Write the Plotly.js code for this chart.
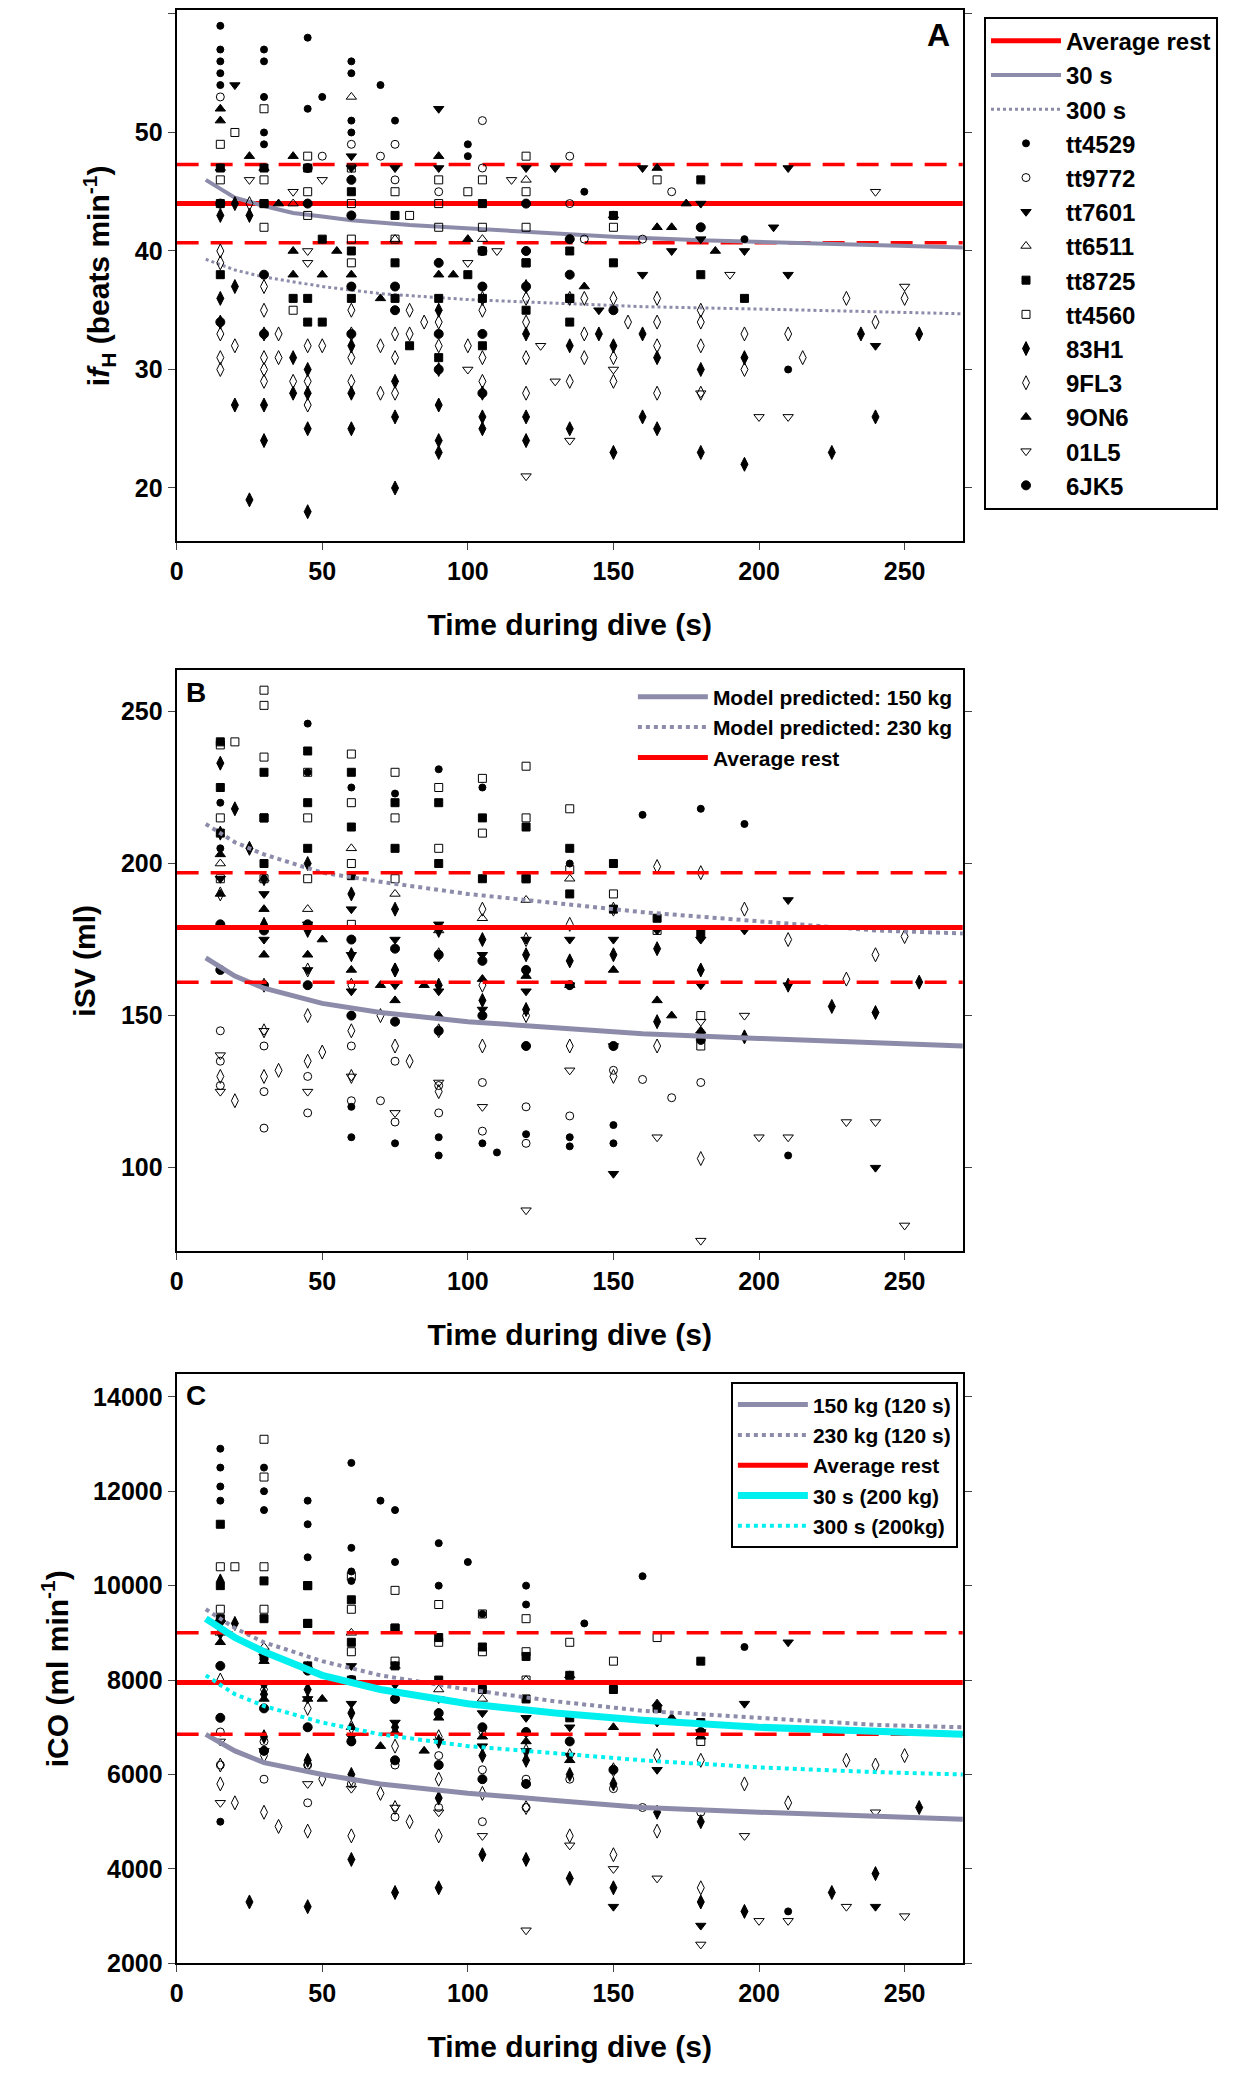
<!DOCTYPE html>
<html>
<head>
<script src="https://cdn.plot.ly/plotly-3.0.1.min.js"></script>
<style>body{margin:0;background:#fff}</style>
</head>
<body>
<div id="chart" style="width:1244px;height:2082px"></div>
<script>
// subjects and their symbols
const subjects = ["tt4529","tt9772","tt7601","tt6511","tt8725","tt4560","83H1","9FL3","9ON6","01L5","6JK5"];
const symbols = ["circle","circle-open","triangle-down","triangle-up-open","square","square-open","diamond-tall","diamond-tall-open","triangle-up","triangle-down-open","circle"];
const sizes = [7,8,9,9,8,8,10,10,9,9,9];

// panel A: ifH (beats/min), [time, value]
const fhData = {
  "tt4529": [[15,59],[15,57],[15,56],[15,55],[15,54],[30,57],[30,56],[30,53],[30,50],[30,49],[45,58],[45,52],[50,53],[60,56],[60,55],[60,51],[60,50],[70,54],[75,51],[100,49],[100,48],[140,45],[195,41],[210,30]],
  "tt9772": [[15,53],[50,48],[60,49],[70,48],[75,49],[75,46],[105,51],[105,47],[135,48],[135,44],[170,45],[140,41],[160,41],[90,45]],
  "tt7601": [[20,54],[60,48],[60,47],[75,47],[90,52],[90,47],[120,47],[130,47],[160,47],[160,38],[180,44],[180,41],[195,40],[205,42],[210,47],[210,38],[240,32],[170,40],[145,35]],
  "tt6511": [[60,53],[15,47],[75,41],[105,41],[120,46],[40,44]],
  "tt8725": [[15,47],[15,44],[15,38],[30,47],[30,44],[45,47],[45,36],[45,34],[50,41],[50,34],[60,45],[60,40],[60,36],[75,43],[75,39],[75,36],[80,32],[90,36],[90,31],[100,38],[105,44],[105,40],[105,36],[105,32],[120,39],[120,35],[135,40],[135,36],[135,34],[150,43],[150,39],[180,46],[180,38],[195,36],[40,36]],
  "tt4560": [[15,49],[15,46],[20,50],[30,52],[30,46],[30,44],[30,42],[45,48],[45,45],[45,43],[60,47],[60,44],[60,41],[60,39],[75,45],[75,41],[80,43],[90,46],[90,44],[90,42],[100,45],[105,46],[105,42],[120,48],[120,45],[120,42],[120,39],[135,36],[150,42],[165,46],[40,35]],
  "83H1": [[15,43],[15,36],[15,34],[20,44],[20,27],[25,43],[25,19],[30,33],[30,27],[30,24],[40,31],[40,28],[45,30],[45,28],[45,25],[45,18],[60,32],[60,28],[60,25],[75,29],[75,26],[75,20],[90,35],[90,30],[90,27],[90,24],[90,23],[105,28],[105,26],[105,25],[120,37],[120,33],[120,26],[120,24],[135,32],[135,25],[145,33],[150,32],[150,23],[160,33],[160,26],[165,31],[165,25],[180,30],[180,23],[195,31],[195,22],[225,23],[235,33],[240,26],[255,33],[20,37]],
  "9FL3": [[15,40],[15,39],[15,33],[15,31],[15,30],[20,32],[25,44],[30,37],[30,35],[30,31],[30,30],[30,29],[35,33],[35,31],[40,29],[45,32],[45,29],[45,27],[50,32],[60,35],[60,33],[60,31],[60,29],[70,28],[70,32],[75,33],[75,31],[75,28],[80,35],[80,33],[85,34],[90,34],[90,32],[100,32],[105,36],[105,35],[105,31],[105,29],[120,36],[120,34],[120,31],[120,28],[135,36],[135,29],[140,36],[140,33],[140,31],[150,36],[150,31],[150,29],[155,34],[165,36],[165,34],[165,32],[165,28],[180,35],[180,34],[180,32],[180,28],[195,33],[195,30],[210,33],[215,31],[230,36],[240,34],[250,36]],
  "9ON6": [[15,52],[15,51],[25,48],[35,44],[40,48],[40,40],[40,38],[50,38],[55,40],[60,38],[70,36],[90,48],[90,38],[95,38],[100,41],[140,37],[150,43],[165,47],[165,42],[170,42],[175,44],[185,40],[30,47]],
  "01L5": [[25,46],[40,45],[45,40],[45,39],[50,46],[100,39],[100,30],[110,40],[115,46],[125,32],[130,29],[135,24],[150,30],[190,38],[200,26],[210,26],[240,45],[250,37],[120,21],[180,28]],
  "6JK5": [[15,44],[15,34],[30,38],[30,33],[45,47],[45,44],[60,46],[60,43],[60,37],[60,33],[75,37],[75,35],[90,39],[90,33],[90,30],[105,40],[105,37],[105,33],[105,28],[120,44],[120,40],[120,37],[135,41],[135,38],[150,35],[180,42]]
};

// panel B: iSV (ml)
const svData = {
  "tt4529": [[15,220],[15,205],[30,215],[45,246],[45,230],[60,225],[60,120],[60,110],[75,223],[75,108],[90,231],[90,110],[90,104],[105,225],[105,108],[110,105],[120,111],[135,110],[135,107],[150,114],[150,108],[160,216],[180,218],[195,213],[210,104],[135,200],[180,144]],
  "tt9772": [[15,145],[15,135],[15,127],[30,140],[30,125],[30,113],[45,130],[45,118],[60,140],[60,122],[70,122],[75,135],[75,115],[90,127],[90,118],[105,128],[105,112],[120,120],[120,108],[135,117],[150,132],[160,129],[170,123],[180,128]],
  "tt7601": [[15,195],[30,190],[30,175],[45,180],[45,165],[60,185],[60,170],[60,158],[75,175],[75,160],[90,180],[90,158],[105,170],[105,152],[120,175],[120,158],[135,175],[135,160],[150,98],[165,178],[180,175],[180,160],[195,178],[210,188],[210,160],[240,100],[150,175]],
  "tt6511": [[15,200],[30,195],[45,185],[60,205],[75,190],[90,178],[105,182],[120,188],[135,195]],
  "tt8725": [[15,240],[15,225],[15,210],[30,230],[30,215],[30,200],[45,237],[45,220],[45,205],[60,230],[60,212],[60,196],[75,220],[75,205],[90,220],[90,200],[105,215],[105,195],[120,212],[120,195],[135,205],[135,190],[150,200],[150,185],[165,182],[180,177]],
  "tt4560": [[15,239],[15,215],[15,195],[20,240],[30,257],[30,252],[30,235],[30,215],[30,195],[45,230],[45,215],[45,195],[60,236],[60,220],[60,200],[60,180],[75,230],[75,215],[75,195],[90,225],[90,205],[105,228],[105,210],[120,232],[120,215],[120,195],[135,218],[135,198],[150,190],[165,178],[180,150],[180,140]],
  "83H1": [[15,233],[15,210],[20,218],[25,205],[30,195],[30,180],[45,200],[45,178],[60,190],[60,170],[75,185],[75,165],[90,178],[90,160],[105,175],[105,155],[120,170],[120,152],[135,168],[150,170],[165,172],[180,165],[195,143],[210,160],[225,153],[240,151],[255,161],[165,148]],
  "9FL3": [[15,190],[15,130],[20,122],[30,160],[30,145],[30,130],[35,132],[45,165],[45,150],[45,135],[50,138],[60,160],[60,145],[60,130],[70,150],[75,165],[75,140],[80,135],[90,170],[90,145],[90,125],[105,185],[105,160],[105,140],[120,175],[120,150],[135,180],[135,140],[150,185],[150,130],[165,199],[165,140],[180,197],[180,103],[195,185],[210,175],[230,162],[240,170],[250,176]],
  "9ON6": [[15,203],[15,190],[30,185],[30,170],[45,170],[50,175],[60,165],[70,160],[75,155],[85,160],[90,150],[105,162],[120,163],[135,160],[150,165],[165,155],[170,150],[180,145]],
  "01L5": [[15,137],[15,125],[30,145],[45,125],[60,130],[75,118],[90,128],[105,120],[120,86],[135,132],[150,140],[165,110],[180,76],[195,150],[200,110],[210,110],[230,115],[240,115],[250,81],[180,148]],
  "6JK5": [[15,180],[15,165],[30,178],[30,160],[45,180],[45,160],[60,175],[60,150],[75,172],[75,148],[90,170],[90,145],[105,168],[105,150],[120,165],[120,140],[135,160],[150,140],[180,142]]
};

// panel C: iCO (ml/min)
const coData = {
  "tt4529": [[15,12900],[15,12500],[15,12100],[15,11800],[30,12500],[30,12000],[30,11600],[45,11800],[45,11300],[45,10600],[60,12600],[60,10800],[60,10300],[60,10100],[70,11800],[75,11600],[75,10500],[90,10900],[90,10000],[100,10500],[105,9400],[120,10000],[120,9600],[140,9200],[160,10200],[195,8700],[210,3100],[15,5000]],
  "tt9772": [[15,6900],[15,6200],[30,6700],[30,5900],[45,6200],[45,5400],[60,6700],[60,5800],[75,6200],[75,5100],[90,6400],[90,5300],[105,6100],[105,5000],[120,5900],[120,5300],[135,5900],[150,5700],[160,5300],[180,5200]],
  "tt7601": [[15,9200],[30,8500],[30,7900],[45,8200],[45,7600],[60,8300],[60,7500],[60,6800],[75,7900],[75,7100],[90,7600],[90,6700],[105,7300],[105,6600],[120,7200],[120,6500],[135,7000],[135,6400],[150,3200],[165,7100],[180,6900],[180,2800],[195,7500],[210,8800],[240,3200],[165,6100]],
  "tt6511": [[15,9000],[30,8700],[45,8300],[60,9000],[75,8300],[90,7800],[105,7600],[120,8000],[135,8100]],
  "tt8725": [[15,11300],[15,10000],[15,9300],[30,10100],[30,9300],[30,8500],[45,10000],[45,9200],[45,8300],[60,9700],[60,8800],[60,8000],[75,9100],[75,8300],[90,8900],[90,8000],[105,8700],[105,7800],[120,8500],[120,7600],[135,8100],[135,7200],[150,7800],[165,7400],[180,8400],[180,7100]],
  "tt4560": [[15,10400],[15,9500],[20,10400],[30,13100],[30,12300],[30,10400],[30,9500],[45,10000],[45,9200],[60,10200],[60,9500],[60,8600],[75,9900],[75,9100],[75,8400],[90,9600],[90,8800],[105,9400],[105,8600],[120,9300],[120,8600],[120,8000],[135,8800],[150,8400],[165,8900],[180,6700]],
  "83H1": [[15,10100],[15,9000],[20,9200],[25,3300],[30,7700],[30,6800],[45,7800],[45,6300],[45,3200],[60,7300],[60,6000],[60,4200],[75,7000],[75,3500],[90,6700],[90,5500],[90,3600],[105,6400],[105,4300],[120,6300],[120,4200],[135,6000],[135,3800],[150,5800],[150,3600],[165,5200],[180,5000],[180,3300],[195,3100],[225,3500],[240,3900],[255,5300]],
  "9FL3": [[15,8000],[15,6200],[15,5800],[20,5400],[30,7800],[30,6400],[30,5200],[35,4900],[45,7400],[45,6200],[45,4800],[50,5900],[60,7000],[60,5900],[60,4700],[70,5600],[75,6600],[75,5300],[80,5000],[90,6800],[90,5900],[90,4700],[105,6900],[105,5600],[120,6500],[120,5300],[135,6400],[135,4700],[150,6100],[150,4300],[165,6400],[165,4800],[180,6300],[180,3600],[195,5800],[210,5400],[230,6300],[240,6200],[250,6400]],
  "9ON6": [[15,9300],[15,8800],[30,8400],[30,7600],[45,7600],[50,7600],[60,7000],[70,6600],[75,6900],[85,6500],[90,7200],[105,6800],[120,6700],[135,6300],[150,7000],[165,7500],[170,7200],[180,6800]],
  "01L5": [[15,6700],[15,5400],[30,6500],[45,5800],[60,5700],[75,5300],[90,5200],[105,4700],[120,2700],[135,4500],[150,4000],[165,3800],[180,2400],[195,4700],[200,2900],[210,2900],[230,3200],[240,5200],[250,3000]],
  "6JK5": [[15,8300],[15,7200],[30,7400],[30,6500],[45,8200],[45,7000],[60,8000],[60,6700],[75,7600],[75,6300],[90,7300],[90,6200],[105,7000],[105,5900],[120,6900],[120,5800],[135,6700],[150,6100],[180,6900]]
};

// model curves [time, value]
const fhRest = [44, 47.3, 40.7];
const fh30 = [[10,46],[20,44.5],[30,43.8],[40,43.2],[50,42.9],[60,42.6],[80,42.2],[100,41.9],[120,41.6],[150,41.2],[180,40.9],[210,40.7],[240,40.5],[270,40.3]];
const fh300 = [[10,39.3],[20,38.4],[30,37.8],[50,37],[70,36.4],[100,35.9],[130,35.6],[160,35.3],[200,35.1],[240,34.9],[270,34.7]];
const svRest = [179, 197, 161];
const sv150 = [[10,169],[20,163],[30,159],[50,154],[70,151],[100,148],[130,146],[160,144],[200,142.5],[240,141],[270,140]];
const sv230 = [[10,213],[20,207],[30,203],[50,197],[70,194],[100,190],[130,187],[160,184],[200,181],[240,178],[270,177]];
const coRest = [7950, 9000, 6850];
const co150 = [[10,6850],[20,6500],[30,6250],[50,6000],[70,5800],[100,5600],[130,5450],[160,5300],[200,5200],[240,5100],[270,5050]];
const co230 = [[10,9500],[20,9100],[30,8800],[50,8400],[70,8100],[100,7800],[130,7550],[160,7350],[200,7200],[240,7050],[270,7000]];
const co30 = [[10,9300],[20,8900],[30,8600],[50,8100],[70,7800],[100,7500],[130,7300],[160,7150],[200,7000],[240,6900],[270,6850]];
const co300 = [[10,8100],[20,7700],[30,7450],[50,7100],[70,6850],[100,6600],[130,6450],[160,6300],[200,6150],[240,6050],[270,6000]];

const RED = "rgb(255,0,0)", GREY = "rgb(140,140,170)", CYAN = "rgb(0,240,240)";
const traces = [];

function line(pts, ax, name, color, width, dash, legend) {
  traces.push({
    x: pts.map(p => p[0]), y: pts.map(p => p[1]),
    xaxis: "x" + ax, yaxis: "y" + ax, mode: "lines", name: name,
    line: {color: color, width: width, dash: dash},
    showlegend: !!legend, legend: legend || "legend", hoverinfo: "skip"
  });
}
function rest(vals, ax, name, legend) {
  line([[0, vals[0]], [270, vals[0]]], ax, name, RED, 5, "solid", legend);
  line([[0, vals[1]], [270, vals[1]]], ax, "", RED, 3.5, "22px,12px");
  line([[0, vals[2]], [270, vals[2]]], ax, "", RED, 3.5, "22px,12px");
}
function scatter(data, ax, legend) {
  subjects.forEach((s, i) => {
    const pts = data[s];
    traces.push({
      x: pts.map(p => p[0]), y: pts.map(p => p[1]),
      xaxis: "x" + ax, yaxis: "y" + ax, mode: "markers", name: s,
      marker: {symbol: symbols[i], size: sizes[i], color: "black", line: {color: "black", width: 1}},
      showlegend: legend, legend: "legend"
    });
  });
}

// panel A
rest(fhRest, "", "Average rest", "legend");
line(fh30, "", "30 s", GREY, 4, "solid", "legend");
line(fh300, "", "300 s", GREY, 3, "dot", "legend");
scatter(fhData, "", true);
// panel B
scatter(svData, "2", false);
line(sv150, "2", "Model predicted: 150 kg", GREY, 5, "solid", "legend2");
line(sv230, "2", "Model predicted: 230 kg", GREY, 4, "dot", "legend2");
rest(svRest, "2", "Average rest", "legend2");
// panel C
scatter(coData, "3", false);
line(co150, "3", "150 kg (120 s)", GREY, 5, "solid", "legend3");
line(co230, "3", "230 kg (120 s)", GREY, 4, "dot", "legend3");
rest(coRest, "3", "Average rest", "legend3");
line(co30, "3", "30 s (200 kg)", CYAN, 7, "solid", "legend3");
line(co300, "3", "300 s (200kg)", CYAN, 4, "dot", "legend3");

const FONT = "Arial, 'Liberation Sans', sans-serif";
function xax(anchor) {
  return {
    domain: [0.142, 0.774], range: [0, 270], anchor: anchor,
    tickvals: [0, 50, 100, 150, 200, 250], ticks: "outside", ticklen: 7,
    showline: true, mirror: true, linewidth: 2, linecolor: "black", showgrid: false, zeroline: false,
    tickfont: {family: FONT, size: 25, weight: "bold", color: "black"},
    title: {text: "Time during dive (s)", font: {family: FONT, size: 30, weight: "bold", color: "black"}, standoff: 30}
  };
}
function yax(anchor, domain, range, tickvals, title) {
  return {
    domain: domain, range: range, anchor: anchor, tickvals: tickvals, ticks: "outside", ticklen: 7,
    showline: true, mirror: "ticks", linewidth: 2, linecolor: "black", showgrid: false, zeroline: false,
    tickformat: "d",
    tickfont: {family: FONT, size: 25, weight: "bold", color: "black"},
    title: {text: title, font: {family: FONT, size: 30, weight: "bold", color: "black"}, standoff: 16}
  };
}
const legFont = {family: FONT, size: 21, weight: "bold", color: "black"};

const layout = {
  width: 1244, height: 2082, paper_bgcolor: "white", plot_bgcolor: "white",
  font: {family: FONT, color: "black"},
  margin: {l: 0, r: 0, t: 0, b: 0}, showlegend: true,
  xaxis: xax("y"), yaxis: yax("x", [0.740, 0.995], [15.5, 60.3], [20, 30, 40, 50, 60], "i<i>f</i><sub>H</sub> (beats min<sup>-1</sup>)"),
  xaxis2: xax("y2"), yaxis2: yax("x2", [0.399, 0.678], [72.5, 263.5], [100, 150, 200, 250], "iSV (ml)"),
  xaxis3: xax("y3"), yaxis3: yax("x3", [0.057, 0.340], [2000, 14480], [2000, 4000, 6000, 8000, 10000, 12000, 14000], "iCO (ml min<sup>-1</sup>)"),
  legend: {x: 0.791, y: 0.992, xanchor: "left", yanchor: "top", bordercolor: "black", borderwidth: 2,
           font: {family: FONT, size: 24, weight: "bold", color: "black"}, tracegroupgap: 0, itemwidth: 70, traceorder: "normal"},
  legend2: {x: 0.77, y: 0.675, xanchor: "right", yanchor: "top", borderwidth: 0, bgcolor: "rgba(0,0,0,0)",
            font: legFont, itemwidth: 70},
  legend3: {x: 0.77, y: 0.336, xanchor: "right", yanchor: "top", bordercolor: "black", borderwidth: 2,
            font: legFont, itemwidth: 70},
  annotations: [
    {text: "A", xref: "paper", yref: "paper", x: 0.765, y: 0.993, xanchor: "right", yanchor: "top", showarrow: false, font: {family: FONT, size: 32, weight: "bold", color: "black"}},
    {text: "B", xref: "paper", yref: "paper", x: 0.148, y: 0.676, xanchor: "left", yanchor: "top", showarrow: false, font: {family: FONT, size: 28, weight: "bold", color: "black"}},
    {text: "C", xref: "paper", yref: "paper", x: 0.148, y: 0.338, xanchor: "left", yanchor: "top", showarrow: false, font: {family: FONT, size: 28, weight: "bold", color: "black"}}
  ]
};

Plotly.newPlot("chart", traces, layout, {displayModeBar: false, staticPlot: true});
</script>
</body>
</html>
